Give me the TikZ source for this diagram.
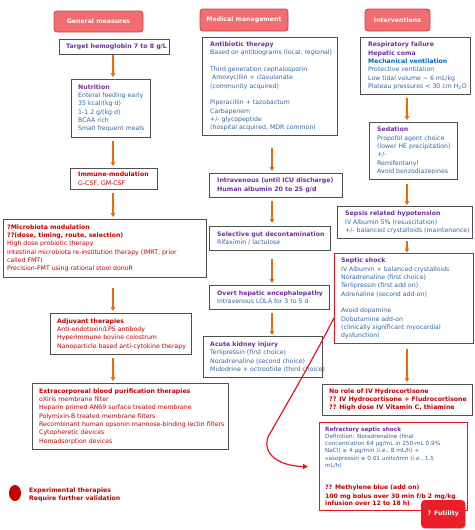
\documentclass[tikz,border=0pt]{standalone}
\usepackage{fontspec}
\setmainfont{DejaVu Sans}
\usetikzlibrary{arrows.meta,shapes.geometric}
\definecolor{boxgray}{RGB}{80,80,80}
\definecolor{purp}{RGB}{112,48,160}
\definecolor{bodyblue}{RGB}{52,101,164}
\definecolor{mechblue}{RGB}{0,102,190}
\definecolor{darkred}{RGB}{192,0,0}
\definecolor{redline}{RGB}{230,20,30}
\definecolor{arrorange}{RGB}{228,108,10}
\definecolor{hdrfill}{RGB}{242,108,112}
\definecolor{hdrdraw}{RGB}{190,70,75}
\definecolor{futfill}{RGB}{236,30,40}
\definecolor{legred}{RGB}{200,0,0}
\newcommand\ptl[1]{\textcolor{purp}{\textbf{#1}}}
\newcommand\rtl[1]{\textcolor{darkred}{\textbf{#1}}}
\begin{document}
\begin{tikzpicture}[x=1pt,y=-1pt,
  every node/.style={font=\fontsize{6.2}{8.33}\selectfont},
  bx/.style={draw=boxgray, line width=0.9pt, anchor=north west, inner sep=0pt, fill=white},
  rbx/.style={draw=redline, line width=1.3pt, anchor=north west, inner sep=0pt, fill=white},
  tx/.style={anchor=west, align=left, inner sep=0pt, text=bodyblue},
  rtx/.style={tx, text=darkred},
  hdr/.style={draw=hdrdraw, fill=hdrfill, line width=0.8pt, rounded corners=3pt, text=white, font=\fontsize{6.2}{8}\selectfont\bfseries, inner sep=0pt},
  arr/.style={draw=arrorange, line width=1.1pt, -{Triangle[length=4pt,width=4.5pt]}, shorten <=3pt, shorten >=2pt},
  redarr/.style={draw=redline, line width=1.2pt, -{Triangle[length=5pt,width=5pt]}}
]
\useasboundingbox (0,0) rectangle (474,530);

% headers
\node[hdr, minimum width=89pt, minimum height=21pt] (hgen) at (98.5,21.5) {General measures};
\node[hdr, minimum width=88pt, minimum height=22pt] (hmed) at (244,20) {Medical management};
\node[hdr, minimum width=65pt, minimum height=22pt] (hint) at (397.5,20) {Interventions};

% general measures column
\node[bx, minimum width=110pt, minimum height=15pt] (target) at (59,39) {};
\node[tx] (targett) at ([xshift=7pt]target.west) {\ptl{Target hemoglobin 7 to 8 g/L}};

\node[bx, minimum width=79pt, minimum height=58pt] (nutri) at (71,79) {};
\node[tx] (nutrit) at ([xshift=7pt]nutri.west) {\ptl{Nutrition}\\Enteral feeding early\\35 kcal/(kg·d)\\1-1.2 g/(kg·d)\\BCAA rich\\Small frequent meals};

\node[bx, minimum width=87pt, minimum height=21pt] (immune) at (70,168) {};
\node[rtx] (immunet) at ([xshift=8pt]immune.west) {\textbf{Immune-modulation}\\G-CSF, GM-CSF};

\node[bx, minimum width=203pt, minimum height=58pt] (micro) at (3,219) {};
\node[rtx] (microt) at ([xshift=4pt]micro.west) {\textbf{?Microbiota modulation}\\\textbf{??(dose, timing, route, selection)}\\High dose probiotic therapy\\Intestinal microbiota re-institution therapy (IMRT, prior\\called FMT)\\Precision-FMT using rational stool donoR};

\node[bx, minimum width=141pt, minimum height=41pt] (adjuv) at (50,313) {};
\node[rtx] (adjuvt) at ([xshift=7pt]adjuv.west) {\textbf{Adjuvant therapies}\\Anti-endotoxin/LPS antibody\\Hyperimmune bovine colostrum\\Nanoparticle based anti-cytokine therapy};

\node[bx, minimum width=196pt, minimum height=66pt] (extra) at (32,383) {};
\node[rtx] (extrat) at ([xshift=7pt]extra.west) {\textbf{Extracorporeal blood purification therapies}\\oXiris membrane filter\\Heparin primed AN69 surface treated membrane\\Polymixin-B treated membrane filters\\Recombinant human opsonin mannose-binding lectin filters\\Cytopheretic devices\\Hemadsorption devices};

% medical management column
\node[bx, minimum width=135pt, minimum height=98pt] (anti) at (202,37) {};
\node[tx] (antit) at ([xshift=8pt]anti.west) {\ptl{Antibiotic therapy}\\Based on antibiograms (local, regional)\\[8.33pt]Third generation cephalosporin\\\hspace*{2pt}Amoxycillin + clavulanate\\(community acquired)\\[8.33pt]Piperacillin + tazobactum\\Carbapenem\\+/- glycopeptide\\(hospital acquired, MDR common)};

\node[bx, minimum width=133pt, minimum height=24pt] (iv) at (209,173) {};
\node[tx] (ivt) at ([xshift=8pt]iv.west) {\ptl{Intravenous (until ICU discharge)}\\\ptl{Human albumin 20 to 25 g/d}};

\node[bx, minimum width=121pt, minimum height=24pt] (sgd) at (209,226) {};
\node[tx] (sgdt) at ([xshift=8pt]sgd.west) {\ptl{Selective gut decontamination}\\Rifaximin / lactulose};

\node[bx, minimum width=120pt, minimum height=24pt] (ohe) at (209,285) {};
\node[tx] (ohet) at ([xshift=8pt]ohe.west) {\ptl{Overt hepatic encephalopathy}\\Intravenous LOLA for 3 to 5 d};

\node[bx, minimum width=119pt, minimum height=41pt] (aki) at (203,336) {};
\node[tx] (akit) at ([xshift=7pt]aki.west) {\ptl{Acute kidney injury}\\Terlipressin (first choice)\\Noradrenaline (second choice)\\Midodrine + octreotide (third choice)};

% interventions column
\node[bx, minimum width=110pt, minimum height=57pt] (resp) at (360,37) {};
\node[tx] (respt) at ([xshift=8pt]resp.west) {\ptl{Respiratory failure}\\\ptl{Hepatic coma}\\\textcolor{mechblue}{\textbf{Mechanical ventilation}}\\Protective ventilation\\Low tidal volume \textasciitilde{} 6 mL/kg\\Plateau pressures < 30 cm H\textsubscript{2}O};

\node[bx, minimum width=88pt, minimum height=57pt] (sed) at (369,122) {};
\node[tx] (sedt) at ([xshift=8pt]sed.west) {\ptl{Sedation}\\Propofol agent choice\\(lower HE precipitation)\\+/-\\Remifentanyl\\Avoid benzodiazepines};

\node[bx, minimum width=135pt, minimum height=32pt] (sepsis) at (337,206) {};
\node[tx] (sepsist) at ([xshift=8pt]sepsis.west) {\ptl{Sepsis related hypotension}\\IV Albumin 5\% (resuscitation)\\+/- balanced crystalloids (maintenance)};

\node[rbx, minimum width=139pt, minimum height=90pt] (shock) at (334,253) {};
\node[tx] (shockt) at ([xshift=7pt]shock.west) {\ptl{Septic shock}\\IV Albumin + balanced crystalloids\\Noradrenaline (first choice)\\Terlipressin (first add on)\\Adrenaline (second add-on)\\[8.33pt]Avoid dopamine\\Dobutamine add-on\\(clinically significant myocardial\\dysfunction)};

\node[bx, minimum width=150pt, minimum height=31pt] (norole) at (322,384) {};
\node[rtx] (norolet) at ([xshift=7pt]norole.west) {\textbf{No role of IV Hydrocortisone}\\\textbf{?? IV Hydrocortisone + Fludrocortisone}\\\textbf{?? High dose IV Vitamin C, thiamine}};

\node[rbx, minimum width=148pt, minimum height=88pt] (refr) at (319,422) {};
\node[tx, font=\fontsize{5.7}{7.2}\selectfont] (refrt) at ([xshift=6pt]refr.west) {\ptl{Refractory septic shock}\\Definition: Noradrenaline (final\\concentration 64 μg/mL in 250-mL 0.9\%\\NaCl) ≥ 4 μg/min (\textit{i.e.}, 8 mL/h) +\\vasopressin ≥ 0.01 units/min (\textit{i.e.}, 1.5\\mL/h)\\[14.5pt]{\fontsize{6.1}{7.2}\selectfont\rtl{?? Methylene blue (add on)}}\\[2pt]{\fontsize{6.1}{7.2}\selectfont\rtl{100 mg bolus over 30 min f/b 2 mg/kg}}\\{\fontsize{6.1}{7.2}\selectfont\rtl{infusion over 12 to 18 h)}}};

\node[fill=futfill, draw=futfill, rounded corners=4pt, minimum width=44pt, minimum height=28pt, anchor=north west, text=white, font=\fontsize{6.2}{8}\selectfont\bfseries, inner sep=0pt] (futil) at (421,500) {? Futility};

% legend
\node[ellipse, fill=legred, minimum width=12pt, minimum height=16pt, inner sep=0pt] (leg) at (15,493) {};
\node[anchor=west, align=left, inner sep=0pt, text=darkred, font=\fontsize{6.2}{8.33}\selectfont\bfseries] (legt) at (29,495) {Experimental therapies\\Require further validation};

% connectors
\coordinate (gx) at (113,0);
\coordinate (mx) at (272,0);
\coordinate (ix) at (407,0);
\draw[arr, shorten <=0pt] (target.south -| gx) -- (nutri.north -| gx);
\draw[arr] (nutri.south -| gx) -- (immune.north -| gx);
\draw[arr] (immune.south -| gx) -- (micro.north -| gx);
\draw[arr, shorten <=10pt] (micro.south -| gx) -- (adjuv.north -| gx);
\draw[arr] (adjuv.south -| gx) -- (extra.north -| gx);

\draw[arr, shorten <=12pt] (anti.south -| mx) -- (iv.north -| mx);
\draw[arr, shorten >=3pt] (iv.south -| mx) -- (sgd.north -| mx);
\draw[arr, shorten <=8pt] (sgd.south -| mx) -- (ohe.north -| mx);
\draw[arr, shorten >=1pt] (ohe.south -| mx) -- (aki.north -| mx);

\draw[arr] (resp.south -| ix) -- (sed.north -| ix);
\draw[arr, shorten <=4pt, shorten >=1pt] (sed.south -| ix) -- (sepsis.north -| ix);
\draw[arr, shorten <=2pt, shorten >=0.5pt] (sepsis.south -| ix) -- (shock.north -| ix);
\draw[arr, shorten <=5pt] (shock.south -| ix) -- (norole.north -| ix);

\draw[redarr] ([yshift=-19pt]shock.west) .. controls (318,350) and (292,395) .. (268,437) .. controls (262,455) and (280,466) .. ([xshift=-11pt]refr.west);
\end{tikzpicture}
\end{document}
